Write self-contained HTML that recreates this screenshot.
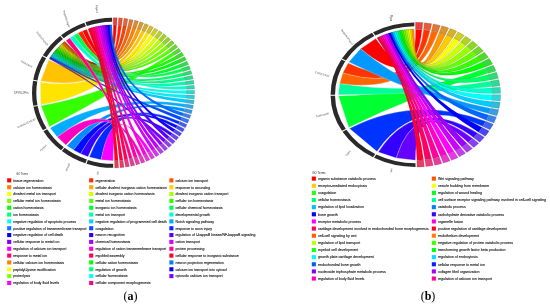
<!DOCTYPE html>
<html><head><meta charset="utf-8"><title>GO chord plots</title>
<style>html,body{margin:0;padding:0;background:#fff}svg{display:block}</style>
</head><body>
<svg width="550" height="308" viewBox="0 0 550 308" font-family="'Liberation Sans', sans-serif">
<rect width="550" height="308" fill="#fff"/>
<path d="M112.07 17.8A81.18 75 0 0 0 85.43 22.32L86.89 26.03A76.91 71.06 0 0 1 112.13 21.75Z" fill="#2a2a2a"/>
<path d="M84.37 22.68A81.18 75 0 0 0 61.02 35.34L63.76 38.36A76.91 71.06 0 0 1 85.89 26.37Z" fill="#2a2a2a"/>
<path d="M60.15 36.02A81.18 75 0 0 0 42.9 55.3L46.59 57.27A76.91 71.06 0 0 1 62.94 39.01Z" fill="#2a2a2a"/>
<path d="M42.34 56.21A81.18 75 0 0 0 33.25 79.78L37.46 80.46A76.91 71.06 0 0 1 46.06 58.13Z" fill="#2a2a2a"/>
<path d="M33.06 80.81A81.18 75 0 0 0 33.25 105.82L37.46 105.14A76.91 71.06 0 0 1 37.28 81.44Z" fill="#2a2a2a"/>
<path d="M33.46 106.85A81.18 75 0 0 0 42.9 130.3L46.59 128.33A76.91 71.06 0 0 1 37.65 106.12Z" fill="#2a2a2a"/>
<path d="M43.47 131.21A81.18 75 0 0 0 61.02 150.26L63.76 147.24A76.91 71.06 0 0 1 47.14 129.19Z" fill="#2a2a2a"/>
<path d="M61.89 150.92A81.18 75 0 0 0 85.43 163.28L86.89 159.57A76.91 71.06 0 0 1 64.59 147.87Z" fill="#2a2a2a"/>
<path d="M86.5 163.63A81.18 75 0 0 0 113.2 167.8L113.2 163.86A76.91 71.06 0 0 1 87.91 159.91Z" fill="#2a2a2a"/>
<defs><radialGradient id="ga0" gradientUnits="userSpaceOnUse" cx="100.42" cy="25.83" r="95"><stop offset="0" stop-color="#111" stop-opacity="0.5"/><stop offset="0.45" stop-color="#111" stop-opacity="0.42"/><stop offset="1" stop-color="#333" stop-opacity="0.25"/></radialGradient><radialGradient id="ga2" gradientUnits="userSpaceOnUse" cx="56.82" cy="49.09" r="95"><stop offset="0" stop-color="#111" stop-opacity="0.95"/><stop offset="0.45" stop-color="#111" stop-opacity="0.81"/><stop offset="1" stop-color="#333" stop-opacity="0.25"/></radialGradient></defs>
<g stroke-width="0.3" stroke-linejoin="round"><path d="M113.2 24.8Q113.2 92.8 86.74 29.35L82.26 31.1Q113.2 92.8 116.74 24.88Z" fill="#ff0000" stroke="#e0e0e0" stroke-width="0.3"/><path d="M118.12 24.95Q113.2 92.8 82.26 31.1L77.92 33.12Q113.2 92.8 121.65 25.25Z" fill="#ff2100" stroke="#e0e0e0" stroke-width="0.3"/><path d="M123.01 25.41Q113.2 92.8 64.85 41.53L63.55 42.6Q113.2 92.8 126.51 25.92Z" fill="#ff4100" stroke="url(#ga2)"/><path d="M127.86 26.16Q113.2 92.8 63.98 42.24L62.7 43.33Q113.2 92.8 131.32 26.89Z" fill="#ff6200" stroke="url(#ga2)"/><path d="M132.64 27.22Q113.2 92.8 63.12 42.97L61.87 44.07Q113.2 92.8 136.04 28.16Z" fill="#ff8200" stroke="url(#ga2)"/><path d="M137.34 28.56Q113.2 92.8 62.28 43.7L61.04 44.82Q113.2 92.8 140.66 29.71Z" fill="#ffa300" stroke="url(#ga2)"/><path d="M141.93 30.2Q113.2 92.8 48.78 59.91L40.72 80.99Q113.2 92.8 145.16 31.55Z" fill="#ffc300" stroke="#e0e0e0" stroke-width="0.3"/><path d="M146.39 32.11Q113.2 92.8 40.49 82.24L40.72 104.61Q113.2 92.8 149.52 33.66Z" fill="#ffe400" stroke="#e0e0e0" stroke-width="0.3"/><path d="M150.71 34.29Q113.2 92.8 61.45 44.45L60.23 45.59Q113.2 92.8 153.71 36.03Z" fill="#faff00" stroke="url(#ga2)"/><path d="M154.85 36.74Q113.2 92.8 60.64 45.2L59.43 46.36Q113.2 92.8 157.73 38.66Z" fill="#d9ff00" stroke="url(#ga2)"/><path d="M158.81 39.43Q113.2 92.8 59.83 45.97L58.65 47.15Q113.2 92.8 161.54 41.52Z" fill="#b8ff00" stroke="url(#ga2)"/><path d="M162.57 42.37Q113.2 92.8 59.04 46.75L57.88 47.95Q113.2 92.8 165.14 44.62Z" fill="#98ff00" stroke="url(#ga2)"/><path d="M166.11 45.53Q113.2 92.8 58.26 47.55L57.12 48.76Q113.2 92.8 168.51 47.94Z" fill="#77ff00" stroke="url(#ga2)"/><path d="M169.4 48.9Q113.2 92.8 57.5 48.35L56.38 49.58Q113.2 92.8 171.63 51.45Z" fill="#57ff00" stroke="url(#ga2)"/><path d="M172.45 52.46Q113.2 92.8 40.97 105.86L49.46 126.8Q113.2 92.8 174.49 55.15Z" fill="#36ff00" stroke="#e0e0e0" stroke-width="0.3"/><path d="M175.24 56.21Q113.2 92.8 56.75 49.17L55.65 50.41Q113.2 92.8 177.07 59.01Z" fill="#16ff00" stroke="url(#ga2)"/><path d="M177.74 60.12Q113.2 92.8 56.01 49.99L54.94 51.25Q113.2 92.8 179.37 63.03Z" fill="#00ff0b" stroke="url(#ga2)"/><path d="M179.96 64.18Q113.2 92.8 55.29 50.83L54.24 52.1Q113.2 92.8 181.38 67.18Z" fill="#00ff2b" stroke="url(#ga2)"/><path d="M181.88 68.36Q113.2 92.8 77.92 33.12L73.73 35.4Q113.2 92.8 183.08 71.44Z" fill="#00ff4c" stroke="#e0e0e0" stroke-width="0.3"/><path d="M183.5 72.65Q113.2 92.8 54.58 51.68L53.55 52.97Q113.2 92.8 184.46 75.8Z" fill="#00ff6d" stroke="url(#ga2)"/><path d="M184.8 77.04Q113.2 92.8 53.89 52.53L52.88 53.84Q113.2 92.8 185.53 80.24Z" fill="#00ff8d" stroke="url(#ga2)"/><path d="M185.77 81.49Q113.2 92.8 53.21 53.4L52.22 54.72Q113.2 92.8 186.28 84.73Z" fill="#00ffae" stroke="url(#ga2)"/><path d="M186.43 85.99Q113.2 92.8 73.73 35.4L69.72 37.94Q113.2 92.8 186.7 89.26Z" fill="#00ffce" stroke="#e0e0e0" stroke-width="0.3"/><path d="M186.76 90.53Q113.2 92.8 52.55 54.28L51.58 55.61Q113.2 92.8 186.79 93.8Z" fill="#00ffef" stroke="url(#ga2)"/><path d="M186.76 95.07Q113.2 92.8 51.9 55.16L50.96 56.51Q113.2 92.8 186.56 98.34Z" fill="#00efff" stroke="url(#ga2)"/><path d="M186.43 99.61Q113.2 92.8 51.27 56.06L50.35 57.42Q113.2 92.8 185.99 102.86Z" fill="#00ceff" stroke="url(#ga2)"/><path d="M185.77 104.11Q113.2 92.8 50.16 127.89L57.26 136.99Q113.2 92.8 185.1 107.33Z" fill="#00aeff" stroke="#e0e0e0" stroke-width="0.3"/><path d="M184.8 108.56Q113.2 92.8 66.95 145.7L73.52 150.07Q113.2 92.8 183.89 111.73Z" fill="#008dff" stroke="#e0e0e0" stroke-width="0.3"/><path d="M183.5 112.95Q113.2 92.8 111.83 24.81L108.51 24.94Q113.2 92.8 182.36 116.05Z" fill="#006dff" stroke="url(#ga0)"/><path d="M181.88 117.24Q113.2 92.8 50.65 56.96L49.75 58.34Q113.2 92.8 180.53 120.27Z" fill="#004cff" stroke="url(#ga2)"/><path d="M179.96 121.42Q113.2 92.8 89.32 157.12L101.1 159.87Q113.2 92.8 178.39 124.36Z" fill="#002bff" stroke="#e0e0e0" stroke-width="0.3"/><path d="M177.74 125.48Q113.2 92.8 73.52 150.07L80.58 153.76Q113.2 92.8 175.97 128.31Z" fill="#000bff" stroke="#e0e0e0" stroke-width="0.3"/><path d="M175.24 129.39Q113.2 92.8 109.62 24.88L106.31 25.1Q113.2 92.8 173.26 132.11Z" fill="#1600ff" stroke="url(#ga0)"/><path d="M172.45 133.14Q113.2 92.8 80.58 153.76L88.03 156.7Q113.2 92.8 170.28 135.73Z" fill="#3600ff" stroke="#e0e0e0" stroke-width="0.3"/><path d="M169.4 136.7Q113.2 92.8 107.41 25.01L104.11 25.32Q113.2 92.8 167.05 139.15Z" fill="#5700ff" stroke="url(#ga0)"/><path d="M166.11 140.07Q113.2 92.8 50.05 57.88L49.46 58.8Q113.2 92.8 163.58 142.37Z" fill="#7700ff" stroke="url(#ga2)"/><path d="M162.57 143.23Q113.2 92.8 105.21 25.2L101.92 25.6Q113.2 92.8 159.88 145.37Z" fill="#9800ff" stroke="url(#ga0)"/><path d="M158.81 146.17Q113.2 92.8 103.02 25.45L99.74 25.95Q113.2 92.8 155.98 148.13Z" fill="#b800ff" stroke="url(#ga0)"/><path d="M154.85 148.86Q113.2 92.8 100.83 25.77L97.58 26.35Q113.2 92.8 151.88 150.65Z" fill="#d900ff" stroke="url(#ga0)"/><path d="M150.71 151.31Q113.2 92.8 101.1 159.87L113.2 160.8Q113.2 92.8 147.61 152.91Z" fill="#fa00ff" stroke="#e0e0e0" stroke-width="0.3"/><path d="M146.39 153.49Q113.2 92.8 98.66 26.14L95.42 26.81Q113.2 92.8 143.19 154.9Z" fill="#ff00e4" stroke="url(#ga0)"/><path d="M141.93 155.4Q113.2 92.8 57.26 136.99L65.89 144.89Q113.2 92.8 138.64 156.61Z" fill="#ff00c3" stroke="#e0e0e0" stroke-width="0.3"/><path d="M137.34 157.04Q113.2 92.8 96.5 26.57L93.29 27.34Q113.2 92.8 133.97 158.04Z" fill="#ff00a3" stroke="url(#ga0)"/><path d="M132.64 158.38Q113.2 92.8 69.72 37.94L65.89 40.71Q113.2 92.8 129.2 159.17Z" fill="#ff0082" stroke="#e0e0e0" stroke-width="0.3"/><path d="M127.86 159.44Q113.2 92.8 94.35 27.07L91.17 27.92Q113.2 92.8 124.37 160.01Z" fill="#ff0062" stroke="url(#ga0)"/><path d="M123.01 160.19Q113.2 92.8 92.22 27.62L89.07 28.56Q113.2 92.8 119.49 160.55Z" fill="#ff0041" stroke="url(#ga0)"/><path d="M118.12 160.65Q113.2 92.8 90.12 28.23L88.03 28.9Q113.2 92.8 114.57 160.79Z" fill="#ff0021" stroke="url(#ga0)"/></g>
<g stroke="#444" stroke-width="0.2"><path d="M113.2 17.66A81.33 75.14 0 0 1 117.12 17.75L116.74 24.88A73.6 68 0 0 0 113.2 24.8Z" fill="#ef3c3c"/><path d="M118.63 17.83A81.33 75.14 0 0 1 122.53 18.16L121.65 25.25A73.6 68 0 0 0 118.12 24.95Z" fill="#eb5038"/><path d="M124.04 18.33A81.33 75.14 0 0 1 127.91 18.9L126.51 25.92A73.6 68 0 0 0 123.01 25.41Z" fill="#e76234"/><path d="M129.4 19.17A81.33 75.14 0 0 1 133.22 19.97L131.32 26.89A73.6 68 0 0 0 127.86 26.16Z" fill="#e37530"/><path d="M134.69 20.33A81.33 75.14 0 0 1 138.44 21.37L136.04 28.16A73.6 68 0 0 0 132.64 27.22Z" fill="#df872c"/><path d="M139.88 21.82A81.33 75.14 0 0 1 143.55 23.09L140.66 29.71A73.6 68 0 0 0 137.34 28.56Z" fill="#db9a28"/><path d="M144.95 23.62A81.33 75.14 0 0 1 148.52 25.12L145.16 31.55A73.6 68 0 0 0 141.93 30.2Z" fill="#d7ad24"/><path d="M149.88 25.74A81.33 75.14 0 0 1 153.33 27.45L149.52 33.66A73.6 68 0 0 0 146.39 32.11Z" fill="#d3c020"/><path d="M154.65 28.15A81.33 75.14 0 0 1 157.97 30.07L153.71 36.03A73.6 68 0 0 0 150.71 34.29Z" fill="#ccd01d"/><path d="M159.23 30.85A81.33 75.14 0 0 1 162.4 32.97L157.73 38.66A73.6 68 0 0 0 154.85 36.74Z" fill="#b7d21f"/><path d="M163.6 33.83A81.33 75.14 0 0 1 166.62 36.14L161.54 41.52A73.6 68 0 0 0 158.81 39.43Z" fill="#a2d422"/><path d="M167.75 37.07A81.33 75.14 0 0 1 170.59 39.56L165.14 44.62A73.6 68 0 0 0 162.57 42.37Z" fill="#8ed624"/><path d="M171.66 40.56A81.33 75.14 0 0 1 174.32 43.22L168.51 47.94A73.6 68 0 0 0 166.11 45.53Z" fill="#79d826"/><path d="M175.31 44.29A81.33 75.14 0 0 1 177.76 47.11L171.63 51.45A73.6 68 0 0 0 169.4 48.9Z" fill="#65da28"/><path d="M178.67 48.23A81.33 75.14 0 0 1 180.92 51.19L174.49 55.15A73.6 68 0 0 0 172.45 52.46Z" fill="#4fdc2a"/><path d="M181.75 52.37A81.33 75.14 0 0 1 183.78 55.47L177.07 59.01A73.6 68 0 0 0 175.24 56.21Z" fill="#3bde2c"/><path d="M184.52 56.69A81.33 75.14 0 0 1 186.32 59.9L179.37 63.03A73.6 68 0 0 0 177.74 60.12Z" fill="#2ddf35"/><path d="M186.97 61.17A81.33 75.14 0 0 1 188.53 64.49L181.38 67.18A73.6 68 0 0 0 179.96 64.18Z" fill="#2cdf4a"/><path d="M189.09 65.79A81.33 75.14 0 0 1 190.41 69.2L183.08 71.44A73.6 68 0 0 0 181.88 68.36Z" fill="#2bde60"/><path d="M190.88 70.54A81.33 75.14 0 0 1 191.95 74.02L184.46 75.8A73.6 68 0 0 0 183.5 72.65Z" fill="#2add77"/><path d="M192.31 75.38A81.33 75.14 0 0 1 193.13 78.92L185.53 80.24A73.6 68 0 0 0 184.8 77.04Z" fill="#2adc8c"/><path d="M193.4 80.3A81.33 75.14 0 0 1 193.95 83.88L186.28 84.73A73.6 68 0 0 0 185.77 81.49Z" fill="#29dba3"/><path d="M194.12 85.28A81.33 75.14 0 0 1 194.42 88.89L186.7 89.26A73.6 68 0 0 0 186.43 85.99Z" fill="#28dbb8"/><path d="M194.48 90.29A81.33 75.14 0 0 1 194.52 93.91L186.79 93.8A73.6 68 0 0 0 186.76 90.53Z" fill="#27dacf"/><path d="M194.48 95.31A81.33 75.14 0 0 1 194.26 98.92L186.56 98.34A73.6 68 0 0 0 186.76 95.07Z" fill="#29d0db"/><path d="M194.12 100.32A81.33 75.14 0 0 1 193.63 103.91L185.99 102.86A73.6 68 0 0 0 186.43 99.61Z" fill="#2dbde0"/><path d="M193.4 105.3A81.33 75.14 0 0 1 192.65 108.85L185.1 107.33A73.6 68 0 0 0 185.77 104.11Z" fill="#31abe3"/><path d="M192.31 110.22A81.33 75.14 0 0 1 191.31 113.72L183.89 111.73A73.6 68 0 0 0 184.8 108.56Z" fill="#3598e8"/><path d="M190.88 115.06A81.33 75.14 0 0 1 189.63 118.49L182.36 116.05A73.6 68 0 0 0 183.5 112.95Z" fill="#3985eb"/><path d="M189.09 119.81A81.33 75.14 0 0 1 187.6 123.15L180.53 120.27A73.6 68 0 0 0 181.88 117.24Z" fill="#3d72f0"/><path d="M186.97 124.43A81.33 75.14 0 0 1 185.24 127.67L178.39 124.36A73.6 68 0 0 0 179.96 121.42Z" fill="#415ff4"/><path d="M184.52 128.91A81.33 75.14 0 0 1 182.56 132.04L175.97 128.31A73.6 68 0 0 0 177.74 125.48Z" fill="#454df8"/><path d="M181.75 133.23A81.33 75.14 0 0 1 179.56 136.23L173.26 132.11A73.6 68 0 0 0 175.24 129.39Z" fill="#5445f8"/><path d="M178.67 137.37A81.33 75.14 0 0 1 176.28 140.23L170.28 135.73A73.6 68 0 0 0 172.45 133.14Z" fill="#6943f6"/><path d="M175.31 141.31A81.33 75.14 0 0 1 172.71 144.02L167.05 139.15A73.6 68 0 0 0 169.4 136.7Z" fill="#7e41f3"/><path d="M171.66 145.04A81.33 75.14 0 0 1 168.87 147.58L163.58 142.37A73.6 68 0 0 0 166.11 140.07Z" fill="#923ff1"/><path d="M167.75 148.53A81.33 75.14 0 0 1 164.79 150.89L159.88 145.37A73.6 68 0 0 0 162.57 143.23Z" fill="#a73def"/><path d="M163.6 151.77A81.33 75.14 0 0 1 160.47 153.94L155.98 148.13A73.6 68 0 0 0 158.81 146.17Z" fill="#bc3bed"/><path d="M159.23 154.75A81.33 75.14 0 0 1 155.95 156.72L151.88 150.65A73.6 68 0 0 0 154.85 148.86Z" fill="#d139eb"/><path d="M154.65 157.45A81.33 75.14 0 0 1 151.23 159.22L147.61 152.91A73.6 68 0 0 0 150.71 151.31Z" fill="#e637e9"/><path d="M149.88 159.86A81.33 75.14 0 0 1 146.34 161.42L143.19 154.9A73.6 68 0 0 0 146.39 153.49Z" fill="#ea37d7"/><path d="M144.95 161.98A81.33 75.14 0 0 1 141.31 163.31L138.64 156.61A73.6 68 0 0 0 141.93 155.4Z" fill="#ea38c0"/><path d="M139.88 163.78A81.33 75.14 0 0 1 136.15 164.89L133.97 158.04A73.6 68 0 0 0 137.34 157.04Z" fill="#eb39ab"/><path d="M134.69 165.27A81.33 75.14 0 0 1 130.88 166.14L129.2 159.17A73.6 68 0 0 0 132.64 158.38Z" fill="#ec3994"/><path d="M129.4 166.43A81.33 75.14 0 0 1 125.54 167.07L124.37 160.01A73.6 68 0 0 0 127.86 159.44Z" fill="#ed3a7f"/><path d="M124.04 167.27A81.33 75.14 0 0 1 120.15 167.67L119.49 160.55A73.6 68 0 0 0 123.01 160.19Z" fill="#ed3b68"/><path d="M118.63 167.77A81.33 75.14 0 0 1 114.72 167.93L114.57 160.79A73.6 68 0 0 0 118.12 160.65Z" fill="#ee3c53"/></g>
<text x="96.9" y="13.4" transform="rotate(84.62 96.9 13.4)" text-anchor="end" textLength="8.54" lengthAdjust="spacingAndGlyphs" dominant-baseline="central" font-size="2.7" fill="#4a4a4a">Ptprz1</text>
<text x="68.8" y="27.8" transform="rotate(72.57 68.8 27.8)" text-anchor="end" textLength="18.03" lengthAdjust="spacingAndGlyphs" dominant-baseline="central" font-size="2.7" fill="#4a4a4a">Serpinh1/Hsp47</text>
<text x="47.5" y="45.5" transform="rotate(50.78 47.5 45.5)" text-anchor="end" textLength="17.55" lengthAdjust="spacingAndGlyphs" dominant-baseline="central" font-size="2.7" fill="#4a4a4a">Tubb2a/Tubb2b</text>
<text x="32" y="67.4" transform="rotate(28.89 32 67.4)" text-anchor="end" textLength="13.25" lengthAdjust="spacingAndGlyphs" dominant-baseline="central" font-size="2.7" fill="#4a4a4a">Tuba1a/1b</text>
<text x="28.4" y="93.8" transform="rotate(0 28.4 93.8)" text-anchor="end" textLength="14.3" lengthAdjust="spacingAndGlyphs" dominant-baseline="central" font-size="2.7" fill="#4a4a4a">DPYSL2/Ptn</text>
<text x="35.9" y="119.1" transform="rotate(-25.29 35.9 119.1)" text-anchor="end" textLength="20.13" lengthAdjust="spacingAndGlyphs" dominant-baseline="central" font-size="2.7" fill="#4a4a4a">Col1a1/Col1a2</text>
<text x="46.6" y="145.5" transform="rotate(-42.55 46.6 145.5)" text-anchor="end" textLength="8.28" lengthAdjust="spacingAndGlyphs" dominant-baseline="central" font-size="2.7" fill="#4a4a4a">Sparcl</text>
<text x="69.7" y="163.1" transform="rotate(-69.06 69.7 163.1)" text-anchor="end" textLength="8.67" lengthAdjust="spacingAndGlyphs" dominant-baseline="central" font-size="2.7" fill="#4a4a4a">Anxa2</text>
<text x="98.6" y="171.2" transform="rotate(-83.05 98.6 171.2)" text-anchor="end" textLength="4.13" lengthAdjust="spacingAndGlyphs" dominant-baseline="central" font-size="2.7" fill="#4a4a4a">Vim</text>
<path d="M414.31 22.46A84.93 72.25 0 0 0 373.03 32.13L375.27 35.42A80.46 68.45 0 0 1 414.38 26.26Z" fill="#2a2a2a"/>
<path d="M372.01 32.64A84.93 72.25 0 0 0 341.95 58.58L345.82 60.48A80.46 68.45 0 0 1 374.3 35.91Z" fill="#2a2a2a"/>
<path d="M341.36 59.45A84.93 72.25 0 0 0 330.57 94.7L335.04 94.7A80.46 68.45 0 0 1 345.26 61.31Z" fill="#2a2a2a"/>
<path d="M330.58 95.71A84.93 72.25 0 0 0 341.95 130.82L345.82 128.92A80.46 68.45 0 0 1 335.04 95.66Z" fill="#2a2a2a"/>
<path d="M342.55 131.69A84.93 72.25 0 0 0 373.03 157.27L375.27 153.98A80.46 68.45 0 0 1 346.38 129.75Z" fill="#2a2a2a"/>
<path d="M374.07 157.77A84.93 72.25 0 0 0 415.5 166.95L415.5 163.15A80.46 68.45 0 0 1 376.24 154.45Z" fill="#2a2a2a"/>
<defs><radialGradient id="gb0" gradientUnits="userSpaceOnUse" cx="395.57" cy="31.43" r="95"><stop offset="0" stop-color="#111" stop-opacity="0.59"/><stop offset="0.45" stop-color="#111" stop-opacity="0.51"/><stop offset="1" stop-color="#333" stop-opacity="0.25"/></radialGradient></defs>
<g stroke-width="0.3" stroke-linejoin="round"><path d="M415.5 29.2Q415.5 94.7 375.76 38.6L360.55 48.82Q415.5 94.7 422.14 29.44Z" fill="#ff0000" stroke="#e0e0e0" stroke-width="0.3"/><path d="M423.55 29.56Q415.5 94.7 348.11 63.01L342.82 73.07Q415.5 94.7 430.13 30.39Z" fill="#ff3300" stroke="#e0e0e0" stroke-width="0.3"/><path d="M431.51 30.63Q415.5 94.7 342.82 73.07L339.59 83.73Q415.5 94.7 437.95 32.05Z" fill="#ff6600" stroke="#e0e0e0" stroke-width="0.3"/><path d="M439.29 32.41Q415.5 94.7 414.06 29.21L411.29 29.3Q415.5 94.7 445.52 34.38Z" fill="#ff9900" stroke="url(#gb0)"/><path d="M446.82 34.86Q415.5 94.7 412.21 29.26L409.44 29.4Q415.5 94.7 452.77 37.38Z" fill="#ffcc00" stroke="url(#gb0)"/><path d="M454 37.98Q415.5 94.7 410.36 29.35L407.6 29.55Q415.5 94.7 459.61 41.01Z" fill="#ffff00" stroke="url(#gb0)"/><path d="M460.76 41.71Q415.5 94.7 408.52 29.47L405.76 29.73Q415.5 94.7 465.97 45.23Z" fill="#ccff00" stroke="url(#gb0)"/><path d="M467.02 46.02Q415.5 94.7 406.68 29.63L403.92 29.94Q415.5 94.7 471.77 49.99Z" fill="#99ff00" stroke="url(#gb0)"/><path d="M472.72 50.87Q415.5 94.7 404.84 29.83L402.1 30.2Q415.5 94.7 476.95 55.24Z" fill="#66ff00" stroke="url(#gb0)"/><path d="M477.79 56.2Q415.5 94.7 403.01 30.07L400.28 30.49Q415.5 94.7 481.47 60.92Z" fill="#33ff00" stroke="url(#gb0)"/><path d="M482.18 61.95Q415.5 94.7 401.19 30.34L398.47 30.82Q415.5 94.7 485.26 66.97Z" fill="#00ff00" stroke="url(#gb0)"/><path d="M485.84 68.06Q415.5 94.7 338.51 95.92L348.82 127.45Q415.5 94.7 488.28 73.32Z" fill="#00ff33" stroke="#e0e0e0" stroke-width="0.3"/><path d="M488.73 74.46Q415.5 94.7 399.37 30.65L396.67 31.19Q415.5 94.7 490.51 79.91Z" fill="#00ff66" stroke="url(#gb0)"/><path d="M490.82 81.08Q415.5 94.7 339.59 83.73L338.5 94.7Q415.5 94.7 491.92 86.66Z" fill="#00ff99" stroke="#e0e0e0" stroke-width="0.3"/><path d="M492.08 87.85Q415.5 94.7 397.57 31L394.88 31.59Q415.5 94.7 492.49 93.5Z" fill="#00ffcc" stroke="url(#gb0)"/><path d="M492.5 94.7Q415.5 94.7 395.77 31.39L393.1 32.03Q415.5 94.7 492.21 100.35Z" fill="#00ffff" stroke="url(#gb0)"/><path d="M492.08 101.55Q415.5 94.7 393.99 31.81L391.34 32.51Q415.5 94.7 491.1 107.14Z" fill="#00ccff" stroke="url(#gb0)"/><path d="M490.82 108.32Q415.5 94.7 360.55 48.82L348.82 61.95Q415.5 94.7 489.16 113.8Z" fill="#0099ff" stroke="#e0e0e0" stroke-width="0.3"/><path d="M488.73 114.94Q415.5 94.7 392.22 32.27L389.58 33.02Q415.5 94.7 486.41 120.24Z" fill="#0066ff" stroke="url(#gb0)"/><path d="M485.84 121.34Q415.5 94.7 349.55 128.5L377 151.42Q415.5 94.7 482.88 126.41Z" fill="#0033ff" stroke="#e0e0e0" stroke-width="0.3"/><path d="M482.18 127.45Q415.5 94.7 390.46 32.76L387.85 33.57Q415.5 94.7 478.61 132.22Z" fill="#0000ff" stroke="url(#gb0)"/><path d="M477.79 133.2Q415.5 94.7 378.25 152.03L396.27 158.12Q415.5 94.7 473.66 137.63Z" fill="#3300ff" stroke="#e0e0e0" stroke-width="0.3"/><path d="M472.72 138.53Q415.5 94.7 396.27 158.12L415.5 160.2Q415.5 94.7 468.06 142.56Z" fill="#6600ff" stroke="#e0e0e0" stroke-width="0.3"/><path d="M467.02 143.38Q415.5 94.7 388.71 33.29L386.13 34.15Q415.5 94.7 461.89 146.98Z" fill="#9900ff" stroke="url(#gb0)"/><path d="M460.76 147.69Q415.5 94.7 386.99 33.86L384.43 34.77Q415.5 94.7 455.22 150.81Z" fill="#cc00ff" stroke="url(#gb0)"/><path d="M454 151.42Q415.5 94.7 385.28 34.46L382.74 35.42Q415.5 94.7 448.1 154.04Z" fill="#ff00ff" stroke="url(#gb0)"/><path d="M446.82 154.54Q415.5 94.7 383.58 35.09L381.08 36.11Q415.5 94.7 440.63 156.61Z" fill="#ff00cc" stroke="url(#gb0)"/><path d="M439.29 156.99Q415.5 94.7 381.91 35.76L379.43 36.83Q415.5 94.7 432.89 158.51Z" fill="#ff0099" stroke="url(#gb0)"/><path d="M431.51 158.77Q415.5 94.7 380.25 36.47L377.8 37.59Q415.5 94.7 424.95 159.7Z" fill="#ff0066" stroke="url(#gb0)"/><path d="M423.55 159.84Q415.5 94.7 378.61 37.2L377 37.98Q415.5 94.7 416.91 160.19Z" fill="#ff0033" stroke="url(#gb0)"/></g>
<g stroke="#444" stroke-width="0.2"><path d="M415.5 22.32A85.08 72.38 0 0 1 422.84 22.59L422.14 29.44A77 65.5 0 0 0 415.5 29.2Z" fill="#ef3c3c"/><path d="M424.39 22.72A85.08 72.38 0 0 1 431.66 23.64L430.13 30.39A77 65.5 0 0 0 423.55 29.56Z" fill="#e95a36"/><path d="M433.19 23.9A85.08 72.38 0 0 1 440.31 25.47L437.95 32.05A77 65.5 0 0 0 431.51 30.63Z" fill="#e27730"/><path d="M441.79 25.86A85.08 72.38 0 0 1 448.68 28.05L445.52 34.38A77 65.5 0 0 0 439.29 32.41Z" fill="#dc952a"/><path d="M450.11 28.58A85.08 72.38 0 0 1 456.69 31.37L452.77 37.38A77 65.5 0 0 0 446.82 34.86Z" fill="#d6b223"/><path d="M458.04 32.02A85.08 72.38 0 0 1 464.24 35.38L459.61 41.01A77 65.5 0 0 0 454 37.98Z" fill="#d0d01d"/><path d="M465.51 36.15A85.08 72.38 0 0 1 471.26 40.03L465.97 45.23A77 65.5 0 0 0 460.76 41.71Z" fill="#afd320"/><path d="M472.43 40.91A85.08 72.38 0 0 1 477.68 45.29L471.77 49.99A77 65.5 0 0 0 467.02 46.02Z" fill="#8fd623"/><path d="M478.73 46.27A85.08 72.38 0 0 1 483.41 51.09L476.95 55.24A77 65.5 0 0 0 472.72 50.87Z" fill="#6ed927"/><path d="M484.34 52.16A85.08 72.38 0 0 1 488.39 57.37L481.47 60.92A77 65.5 0 0 0 477.79 56.2Z" fill="#4edc2a"/><path d="M489.19 58.51A85.08 72.38 0 0 1 492.58 64.05L485.26 66.97A77 65.5 0 0 0 482.18 61.95Z" fill="#2de02d"/><path d="M493.23 65.26A85.08 72.38 0 0 1 495.93 71.08L488.28 73.32A77 65.5 0 0 0 485.84 68.06Z" fill="#2cde50"/><path d="M496.42 72.33A85.08 72.38 0 0 1 498.39 78.36L490.51 79.91A77 65.5 0 0 0 488.73 74.46Z" fill="#2bdd72"/><path d="M498.73 79.65A85.08 72.38 0 0 1 499.94 85.82L491.92 86.66A77 65.5 0 0 0 490.82 81.08Z" fill="#29dc95"/><path d="M500.12 87.13A85.08 72.38 0 0 1 500.57 93.37L492.49 93.5A77 65.5 0 0 0 492.08 87.85Z" fill="#28dbb7"/><path d="M500.58 94.7A85.08 72.38 0 0 1 500.27 100.95L492.21 100.35A77 65.5 0 0 0 492.5 94.7Z" fill="#27d9d9"/><path d="M500.12 102.27A85.08 72.38 0 0 1 499.04 108.45L491.1 107.14A77 65.5 0 0 0 492.08 101.55Z" fill="#2dbce0"/><path d="M498.73 109.75A85.08 72.38 0 0 1 496.89 115.8L489.16 113.8A77 65.5 0 0 0 490.82 108.32Z" fill="#349fe6"/><path d="M496.42 117.07A85.08 72.38 0 0 1 493.85 122.92L486.41 120.24A77 65.5 0 0 0 488.73 114.94Z" fill="#3a81ec"/><path d="M493.23 124.14A85.08 72.38 0 0 1 489.95 129.73L482.88 126.41A77 65.5 0 0 0 485.84 121.34Z" fill="#4064f3"/><path d="M489.19 130.89A85.08 72.38 0 0 1 485.24 136.16L478.61 132.22A77 65.5 0 0 0 482.18 127.45Z" fill="#4646f9"/><path d="M484.34 137.24A85.08 72.38 0 0 1 479.76 142.14L473.66 137.63A77 65.5 0 0 0 477.79 133.2Z" fill="#6743f6"/><path d="M478.73 143.13A85.08 72.38 0 0 1 473.58 147.59L468.06 142.56A77 65.5 0 0 0 472.72 138.53Z" fill="#8740f2"/><path d="M472.43 148.49A85.08 72.38 0 0 1 466.76 152.47L461.89 146.98A77 65.5 0 0 0 467.02 143.38Z" fill="#a83def"/><path d="M465.51 153.25A85.08 72.38 0 0 1 459.39 156.71L455.22 150.81A77 65.5 0 0 0 460.76 147.69Z" fill="#c83aec"/><path d="M458.04 157.38A85.08 72.38 0 0 1 451.53 160.27L448.1 154.04A77 65.5 0 0 0 454 151.42Z" fill="#e936e9"/><path d="M450.11 160.82A85.08 72.38 0 0 1 443.27 163.11L440.63 156.61A77 65.5 0 0 0 446.82 154.54Z" fill="#ea38c6"/><path d="M441.79 163.54A85.08 72.38 0 0 1 434.71 165.21L432.89 158.51A77 65.5 0 0 0 439.29 156.99Z" fill="#eb39a4"/><path d="M433.19 165.5A85.08 72.38 0 0 1 425.94 166.53L424.95 159.7A77 65.5 0 0 0 431.51 158.77Z" fill="#ed3a81"/><path d="M424.39 166.68A85.08 72.38 0 0 1 417.06 167.07L416.91 160.19A77 65.5 0 0 0 423.55 159.84Z" fill="#ee3b5f"/></g>
<text x="390" y="21.1" transform="rotate(90 390 21.1)" text-anchor="end" textLength="6.4" lengthAdjust="spacingAndGlyphs" dominant-baseline="central" font-size="2.7" fill="#4a4a4a">Ptprz</text>
<text x="352.5" y="45" transform="rotate(53.49 352.5 45)" text-anchor="end" textLength="19.16" lengthAdjust="spacingAndGlyphs" dominant-baseline="central" font-size="2.7" fill="#4a4a4a">Serpinh1/Hsp47</text>
<text x="329.3" y="76.4" transform="rotate(15.26 329.3 76.4)" text-anchor="end" textLength="14.82" lengthAdjust="spacingAndGlyphs" dominant-baseline="central" font-size="2.7" fill="#4a4a4a">Col1a1/1a2</text>
<text x="329.3" y="113.6" transform="rotate(-14.74 329.3 113.6)" text-anchor="end" textLength="13.75" lengthAdjust="spacingAndGlyphs" dominant-baseline="central" font-size="2.7" fill="#4a4a4a">Tubb2a/2b</text>
<text x="350.5" y="151" transform="rotate(-48.14 350.5 151)" text-anchor="end" textLength="6.44" lengthAdjust="spacingAndGlyphs" dominant-baseline="central" font-size="2.7" fill="#4a4a4a">Sparc</text>
<text x="391.8" y="168.3" transform="rotate(-87.27 391.8 168.3)" text-anchor="end" textLength="4.2" lengthAdjust="spacingAndGlyphs" dominant-baseline="central" font-size="2.7" fill="#4a4a4a">Vim</text>
<text x="16.2" y="175.1" font-size="2.6" fill="#222">GO Terms</text>
<rect x="7.15" y="178.3" width="4.1" height="4.1" fill="#ff0000"/>
<text transform="translate(13.15 181.7) scale(0.909 1)" font-size="3.916" fill="#111" stroke="#111" stroke-width="0.1">tissue regeneration</text>
<rect x="89.15" y="178.3" width="4.1" height="4.1" fill="#ff2a00"/>
<text transform="translate(95.4 181.7) scale(0.909 1)" font-size="3.916" fill="#111" stroke="#111" stroke-width="0.1">regeneration</text>
<rect x="169.35" y="178.3" width="4.1" height="4.1" fill="#ff5500"/>
<text transform="translate(175.4 181.7) scale(0.909 1)" font-size="3.916" fill="#111" stroke="#111" stroke-width="0.1">calcium ion transport</text>
<rect x="7.15" y="185.14" width="4.1" height="4.1" fill="#ff8000"/>
<text transform="translate(13.15 188.54) scale(0.909 1)" font-size="3.916" fill="#111" stroke="#111" stroke-width="0.1">calcium ion homeostasis</text>
<rect x="89.15" y="185.14" width="4.1" height="4.1" fill="#ffaa00"/>
<text transform="translate(95.4 188.54) scale(0.909 1)" font-size="3.916" fill="#111" stroke="#111" stroke-width="0.1">cellular divalent inorganic cation homeostasis</text>
<rect x="169.35" y="185.14" width="4.1" height="4.1" fill="#ffd400"/>
<text transform="translate(175.4 188.54) scale(0.909 1)" font-size="3.916" fill="#111" stroke="#111" stroke-width="0.1">response to wounding</text>
<rect x="7.15" y="191.98" width="4.1" height="4.1" fill="#ffff00"/>
<text transform="translate(13.15 195.38) scale(0.909 1)" font-size="3.916" fill="#111" stroke="#111" stroke-width="0.1">divalent metal ion transport</text>
<rect x="89.15" y="191.98" width="4.1" height="4.1" fill="#d4ff00"/>
<text transform="translate(95.4 195.38) scale(0.909 1)" font-size="3.916" fill="#111" stroke="#111" stroke-width="0.1">divalent inorganic cation homeostasis</text>
<rect x="169.35" y="191.98" width="4.1" height="4.1" fill="#aaff00"/>
<text transform="translate(175.4 195.38) scale(0.909 1)" font-size="3.916" fill="#111" stroke="#111" stroke-width="0.1">divalent inorganic cation transport</text>
<rect x="7.15" y="198.82" width="4.1" height="4.1" fill="#80ff00"/>
<text transform="translate(13.15 202.22) scale(0.909 1)" font-size="3.916" fill="#111" stroke="#111" stroke-width="0.1">cellular metal ion homeostasis</text>
<rect x="89.15" y="198.82" width="4.1" height="4.1" fill="#55ff00"/>
<text transform="translate(95.4 202.22) scale(0.909 1)" font-size="3.916" fill="#111" stroke="#111" stroke-width="0.1">metal ion homeostasis</text>
<rect x="169.35" y="198.82" width="4.1" height="4.1" fill="#2aff00"/>
<text transform="translate(175.4 202.22) scale(0.909 1)" font-size="3.916" fill="#111" stroke="#111" stroke-width="0.1">cellular ion homeostasis</text>
<rect x="7.15" y="205.66" width="4.1" height="4.1" fill="#00ff00"/>
<text transform="translate(13.15 209.06) scale(0.909 1)" font-size="3.916" fill="#111" stroke="#111" stroke-width="0.1">cation homeostasis</text>
<rect x="89.15" y="205.66" width="4.1" height="4.1" fill="#00ff2a"/>
<text transform="translate(95.4 209.06) scale(0.909 1)" font-size="3.916" fill="#111" stroke="#111" stroke-width="0.1">inorganic ion homeostasis</text>
<rect x="169.35" y="205.66" width="4.1" height="4.1" fill="#00ff55"/>
<text transform="translate(175.4 209.06) scale(0.909 1)" font-size="3.916" fill="#111" stroke="#111" stroke-width="0.1">cellular chemical homeostasis</text>
<rect x="7.15" y="212.5" width="4.1" height="4.1" fill="#00ff80"/>
<text transform="translate(13.15 215.9) scale(0.909 1)" font-size="3.916" fill="#111" stroke="#111" stroke-width="0.1">ion homeostasis</text>
<rect x="89.15" y="212.5" width="4.1" height="4.1" fill="#00ffaa"/>
<text transform="translate(95.4 215.9) scale(0.909 1)" font-size="3.916" fill="#111" stroke="#111" stroke-width="0.1">metal ion transport</text>
<rect x="169.35" y="212.5" width="4.1" height="4.1" fill="#00ffd4"/>
<text transform="translate(175.4 215.9) scale(0.909 1)" font-size="3.916" fill="#111" stroke="#111" stroke-width="0.1">developmental growth</text>
<rect x="7.15" y="219.34" width="4.1" height="4.1" fill="#00ffff"/>
<text transform="translate(13.15 222.74) scale(0.909 1)" font-size="3.916" fill="#111" stroke="#111" stroke-width="0.1">negative regulation of apoptotic process</text>
<rect x="89.15" y="219.34" width="4.1" height="4.1" fill="#00d4ff"/>
<text transform="translate(95.4 222.74) scale(0.909 1)" font-size="3.916" fill="#111" stroke="#111" stroke-width="0.1">negative regulation of programmed cell death</text>
<rect x="169.35" y="219.34" width="4.1" height="4.1" fill="#00aaff"/>
<text transform="translate(175.4 222.74) scale(0.909 1)" font-size="3.916" fill="#111" stroke="#111" stroke-width="0.1">Notch signaling pathway</text>
<rect x="7.15" y="226.18" width="4.1" height="4.1" fill="#0080ff"/>
<text transform="translate(13.15 229.58) scale(0.909 1)" font-size="3.916" fill="#111" stroke="#111" stroke-width="0.1">positive regulation of transmembrane transport</text>
<rect x="89.15" y="226.18" width="4.1" height="4.1" fill="#0055ff"/>
<text transform="translate(95.4 229.58) scale(0.909 1)" font-size="3.916" fill="#111" stroke="#111" stroke-width="0.1">coagulation</text>
<rect x="169.35" y="226.18" width="4.1" height="4.1" fill="#002bff"/>
<text transform="translate(175.4 229.58) scale(0.909 1)" font-size="3.916" fill="#111" stroke="#111" stroke-width="0.1">response to axon injury</text>
<rect x="7.15" y="233.02" width="4.1" height="4.1" fill="#0000ff"/>
<text transform="translate(13.15 236.42) scale(0.909 1)" font-size="3.916" fill="#111" stroke="#111" stroke-width="0.1">negative regulation of cell death</text>
<rect x="89.15" y="233.02" width="4.1" height="4.1" fill="#2a00ff"/>
<text transform="translate(95.4 236.42) scale(0.909 1)" font-size="3.916" fill="#111" stroke="#111" stroke-width="0.1">neuron recognition</text>
<rect x="169.35" y="233.02" width="4.1" height="4.1" fill="#5500ff"/>
<text transform="translate(175.4 236.42) scale(0.909 1)" font-size="3.916" fill="#111" stroke="#111" stroke-width="0.1">regulation of I-kappaB kinase/NF-kappaB signaling</text>
<rect x="7.15" y="239.86" width="4.1" height="4.1" fill="#8000ff"/>
<text transform="translate(13.15 243.26) scale(0.909 1)" font-size="3.916" fill="#111" stroke="#111" stroke-width="0.1">cellular response to metal ion</text>
<rect x="89.15" y="239.86" width="4.1" height="4.1" fill="#aa00ff"/>
<text transform="translate(95.4 243.26) scale(0.909 1)" font-size="3.916" fill="#111" stroke="#111" stroke-width="0.1">chemical homeostasis</text>
<rect x="169.35" y="239.86" width="4.1" height="4.1" fill="#d500ff"/>
<text transform="translate(175.4 243.26) scale(0.909 1)" font-size="3.916" fill="#111" stroke="#111" stroke-width="0.1">cation transport</text>
<rect x="7.15" y="246.7" width="4.1" height="4.1" fill="#ff00ff"/>
<text transform="translate(13.15 250.1) scale(0.909 1)" font-size="3.916" fill="#111" stroke="#111" stroke-width="0.1">regulation of calcium ion transport</text>
<rect x="89.15" y="246.7" width="4.1" height="4.1" fill="#ff00d4"/>
<text transform="translate(95.4 250.1) scale(0.909 1)" font-size="3.916" fill="#111" stroke="#111" stroke-width="0.1">regulation of cation transmembrane transport</text>
<rect x="169.35" y="246.7" width="4.1" height="4.1" fill="#ff00aa"/>
<text transform="translate(175.4 250.1) scale(0.909 1)" font-size="3.916" fill="#111" stroke="#111" stroke-width="0.1">protein processing</text>
<rect x="7.15" y="253.54" width="4.1" height="4.1" fill="#ff0080"/>
<text transform="translate(13.15 256.94) scale(0.909 1)" font-size="3.916" fill="#111" stroke="#111" stroke-width="0.1">response to metal ion</text>
<rect x="89.15" y="253.54" width="4.1" height="4.1" fill="#ff0055"/>
<text transform="translate(95.4 256.94) scale(0.909 1)" font-size="3.916" fill="#111" stroke="#111" stroke-width="0.1">myofibril assembly</text>
<rect x="169.35" y="253.54" width="4.1" height="4.1" fill="#ff002b"/>
<text transform="translate(175.4 256.94) scale(0.909 1)" font-size="3.916" fill="#111" stroke="#111" stroke-width="0.1">cellular response to inorganic substance</text>
<rect x="7.15" y="260.38" width="4.1" height="4.1" fill="#ff8000"/>
<text transform="translate(13.15 263.78) scale(0.909 1)" font-size="3.916" fill="#111" stroke="#111" stroke-width="0.1">cellular calcium ion homeostasis</text>
<rect x="89.15" y="260.38" width="4.1" height="4.1" fill="#00ff00"/>
<text transform="translate(95.4 263.78) scale(0.909 1)" font-size="3.916" fill="#111" stroke="#111" stroke-width="0.1">cellular cation homeostasis</text>
<rect x="169.35" y="260.38" width="4.1" height="4.1" fill="#0080ff"/>
<text transform="translate(175.4 263.78) scale(0.909 1)" font-size="3.916" fill="#111" stroke="#111" stroke-width="0.1">neuron projection regeneration</text>
<rect x="7.15" y="267.22" width="4.1" height="4.1" fill="#ffff00"/>
<text transform="translate(13.15 270.62) scale(0.909 1)" font-size="3.916" fill="#111" stroke="#111" stroke-width="0.1">peptidyl-lysine modification</text>
<rect x="89.15" y="267.22" width="4.1" height="4.1" fill="#00ff80"/>
<text transform="translate(95.4 270.62) scale(0.909 1)" font-size="3.916" fill="#111" stroke="#111" stroke-width="0.1">regulation of growth</text>
<rect x="169.35" y="267.22" width="4.1" height="4.1" fill="#0000ff"/>
<text transform="translate(175.4 270.62) scale(0.909 1)" font-size="3.916" fill="#111" stroke="#111" stroke-width="0.1">calcium ion transport into cytosol</text>
<rect x="7.15" y="274.06" width="4.1" height="4.1" fill="#80ff00"/>
<text transform="translate(13.15 277.46) scale(0.909 1)" font-size="3.916" fill="#111" stroke="#111" stroke-width="0.1">proteolysis</text>
<rect x="89.15" y="274.06" width="4.1" height="4.1" fill="#00ffff"/>
<text transform="translate(95.4 277.46) scale(0.909 1)" font-size="3.916" fill="#111" stroke="#111" stroke-width="0.1">cellular homeostasis</text>
<rect x="169.35" y="274.06" width="4.1" height="4.1" fill="#8000ff"/>
<text transform="translate(175.4 277.46) scale(0.909 1)" font-size="3.916" fill="#111" stroke="#111" stroke-width="0.1">cytosolic calcium ion transport</text>
<rect x="7.15" y="280.9" width="4.1" height="4.1" fill="#ff00ff"/>
<text transform="translate(13.15 284.3) scale(0.909 1)" font-size="3.916" fill="#111" stroke="#111" stroke-width="0.1">regulation of body fluid levels</text>
<rect x="89.15" y="280.9" width="4.1" height="4.1" fill="#ff0080"/>
<text transform="translate(95.4 284.3) scale(0.909 1)" font-size="3.916" fill="#111" stroke="#111" stroke-width="0.1">cellular component morphogenesis</text>
<text x="312.3" y="173.5" font-size="2.93" fill="#222">GO Terms</text>
<rect x="311.8" y="176.55" width="4.1" height="4.1" fill="#ff0000"/>
<text transform="translate(317.9 179.9) scale(0.909 1)" font-size="3.971" fill="#111" stroke="#111" stroke-width="0.1">organic substance catabolic process</text>
<rect x="431.8" y="176.55" width="4.1" height="4.1" fill="#ff5500"/>
<text transform="translate(437.9 179.9) scale(0.909 1)" font-size="3.971" fill="#111" stroke="#111" stroke-width="0.1">Wnt signaling pathway</text>
<rect x="311.8" y="183.69" width="4.1" height="4.1" fill="#ffcc00"/>
<text transform="translate(317.9 187.04) scale(0.909 1)" font-size="3.971" fill="#111" stroke="#111" stroke-width="0.1">receptor-mediated endocytosis</text>
<rect x="431.8" y="183.69" width="4.1" height="4.1" fill="#ffff00"/>
<text transform="translate(437.9 187.04) scale(0.909 1)" font-size="3.971" fill="#111" stroke="#111" stroke-width="0.1">vesicle budding from membrane</text>
<rect x="311.8" y="190.83" width="4.1" height="4.1" fill="#2aff00"/>
<text transform="translate(317.9 194.18) scale(0.909 1)" font-size="3.971" fill="#111" stroke="#111" stroke-width="0.1">coagulation</text>
<rect x="431.8" y="190.83" width="4.1" height="4.1" fill="#00ff15"/>
<text transform="translate(437.9 194.18) scale(0.909 1)" font-size="3.971" fill="#111" stroke="#111" stroke-width="0.1">regulation of wound healing</text>
<rect x="311.8" y="197.97" width="4.1" height="4.1" fill="#00ff6a"/>
<text transform="translate(317.9 201.32) scale(0.909 1)" font-size="3.971" fill="#111" stroke="#111" stroke-width="0.1">cellular homeostasis</text>
<rect x="431.8" y="197.97" width="4.1" height="4.1" fill="#00ff95"/>
<text transform="translate(437.9 201.32) scale(0.909 1)" font-size="3.971" fill="#111" stroke="#111" stroke-width="0.1">cell surface receptor signaling pathway involved in cell-cell signaling</text>
<rect x="311.8" y="205.11" width="4.1" height="4.1" fill="#00bfff"/>
<text transform="translate(317.9 208.46) scale(0.909 1)" font-size="3.971" fill="#111" stroke="#111" stroke-width="0.1">regulation of lipid localization</text>
<rect x="431.8" y="205.11" width="4.1" height="4.1" fill="#0080ff"/>
<text transform="translate(437.9 208.46) scale(0.909 1)" font-size="3.971" fill="#111" stroke="#111" stroke-width="0.1">catabolic process</text>
<rect x="311.8" y="212.25" width="4.1" height="4.1" fill="#0000ff"/>
<text transform="translate(317.9 215.6) scale(0.909 1)" font-size="3.971" fill="#111" stroke="#111" stroke-width="0.1">bone growth</text>
<rect x="431.8" y="212.25" width="4.1" height="4.1" fill="#4000ff"/>
<text transform="translate(437.9 215.6) scale(0.909 1)" font-size="3.971" fill="#111" stroke="#111" stroke-width="0.1">carbohydrate derivative catabolic process</text>
<rect x="311.8" y="219.39" width="4.1" height="4.1" fill="#ff00ff"/>
<text transform="translate(317.9 222.74) scale(0.909 1)" font-size="3.971" fill="#111" stroke="#111" stroke-width="0.1">receptor metabolic process</text>
<rect x="431.8" y="219.39" width="4.1" height="4.1" fill="#ff00dd"/>
<text transform="translate(437.9 222.74) scale(0.909 1)" font-size="3.971" fill="#111" stroke="#111" stroke-width="0.1">organelle fusion</text>
<rect x="311.8" y="226.53" width="4.1" height="4.1" fill="#ff0055"/>
<text transform="translate(317.9 229.88) scale(0.909 1)" font-size="3.971" fill="#111" stroke="#111" stroke-width="0.1">cartilage development involved in endochondral bone morphogenesis</text>
<rect x="431.8" y="226.53" width="4.1" height="4.1" fill="#ff0022"/>
<text transform="translate(437.9 229.88) scale(0.909 1)" font-size="3.971" fill="#111" stroke="#111" stroke-width="0.1">positive regulation of cartilage development</text>
<rect x="311.8" y="233.67" width="4.1" height="4.1" fill="#ff5e00"/>
<text transform="translate(317.9 237.02) scale(0.909 1)" font-size="3.971" fill="#111" stroke="#111" stroke-width="0.1">cell-cell signaling by wnt</text>
<rect x="431.8" y="233.67" width="4.1" height="4.1" fill="#ff8000"/>
<text transform="translate(437.9 237.02) scale(0.909 1)" font-size="3.971" fill="#111" stroke="#111" stroke-width="0.1">endothelium development</text>
<rect x="311.8" y="240.81" width="4.1" height="4.1" fill="#bfff00"/>
<text transform="translate(317.9 244.16) scale(0.909 1)" font-size="3.971" fill="#111" stroke="#111" stroke-width="0.1">regulation of lipid transport</text>
<rect x="431.8" y="240.81" width="4.1" height="4.1" fill="#40ff00"/>
<text transform="translate(437.9 244.16) scale(0.909 1)" font-size="3.971" fill="#111" stroke="#111" stroke-width="0.1">negative regulation of protein catabolic process</text>
<rect x="311.8" y="247.95" width="4.1" height="4.1" fill="#22ff00"/>
<text transform="translate(317.9 251.3) scale(0.909 1)" font-size="3.971" fill="#111" stroke="#111" stroke-width="0.1">myeloid cell development</text>
<rect x="431.8" y="247.95" width="4.1" height="4.1" fill="#00ff15"/>
<text transform="translate(437.9 251.3) scale(0.909 1)" font-size="3.971" fill="#111" stroke="#111" stroke-width="0.1">transforming growth factor beta production</text>
<rect x="311.8" y="255.09" width="4.1" height="4.1" fill="#00ffea"/>
<text transform="translate(317.9 258.44) scale(0.909 1)" font-size="3.971" fill="#111" stroke="#111" stroke-width="0.1">growth plate cartilage development</text>
<rect x="431.8" y="255.09" width="4.1" height="4.1" fill="#00e1ff"/>
<text transform="translate(437.9 258.44) scale(0.909 1)" font-size="3.971" fill="#111" stroke="#111" stroke-width="0.1">regulation of endocytosis</text>
<rect x="311.8" y="262.23" width="4.1" height="4.1" fill="#005eff"/>
<text transform="translate(317.9 265.58) scale(0.909 1)" font-size="3.971" fill="#111" stroke="#111" stroke-width="0.1">endochondral bone growth</text>
<rect x="431.8" y="262.23" width="4.1" height="4.1" fill="#0022ff"/>
<text transform="translate(437.9 265.58) scale(0.909 1)" font-size="3.971" fill="#111" stroke="#111" stroke-width="0.1">cellular response to metal ion</text>
<rect x="311.8" y="269.37" width="4.1" height="4.1" fill="#8000ff"/>
<text transform="translate(317.9 272.72) scale(0.909 1)" font-size="3.971" fill="#111" stroke="#111" stroke-width="0.1">nucleoside triphosphate metabolic process</text>
<rect x="431.8" y="269.37" width="4.1" height="4.1" fill="#a200ff"/>
<text transform="translate(437.9 272.72) scale(0.909 1)" font-size="3.971" fill="#111" stroke="#111" stroke-width="0.1">collagen fibril organization</text>
<rect x="311.8" y="276.51" width="4.1" height="4.1" fill="#ff00bf"/>
<text transform="translate(317.9 279.86) scale(0.909 1)" font-size="3.971" fill="#111" stroke="#111" stroke-width="0.1">regulation of body fluid levels</text>
<rect x="431.8" y="276.51" width="4.1" height="4.1" fill="#ff0090"/>
<text transform="translate(437.9 279.86) scale(0.909 1)" font-size="3.971" fill="#111" stroke="#111" stroke-width="0.1">regulation of calcium ion transport</text>
<g font-family="'Liberation Serif', serif" font-size="12" fill="#000" text-anchor="middle">
<text x="130.5" y="300">(<tspan font-weight="bold">a</tspan>)</text>
<text x="428" y="300">(<tspan font-weight="bold">b</tspan>)</text>
</g>
</svg>
</body></html>
